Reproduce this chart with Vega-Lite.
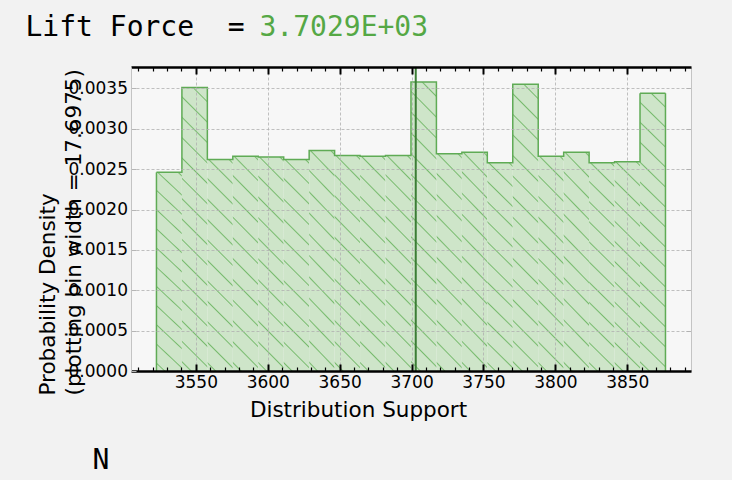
{
  "$schema": "https://vega.github.io/schema/vega-lite/v6.json",
  "width": 560,
  "height": 304,
  "autosize": {"type": "none"},
  "padding": {"left": 131, "top": 67, "right": 41, "bottom": 109},
  "background": "#f2f2f2",
  "datasets": {
    "hist": [
      {"bin_start": 3522.6, "bin_end": 3540.2975, "density": 0.00246},
      {"bin_start": 3540.2975, "bin_end": 3557.995, "density": 0.00351},
      {"bin_start": 3557.995, "bin_end": 3575.6925, "density": 0.00262},
      {"bin_start": 3575.6925, "bin_end": 3593.39, "density": 0.00266},
      {"bin_start": 3593.39, "bin_end": 3611.0875, "density": 0.00265},
      {"bin_start": 3611.0875, "bin_end": 3628.785, "density": 0.00262},
      {"bin_start": 3628.785, "bin_end": 3646.4825, "density": 0.00273},
      {"bin_start": 3646.4825, "bin_end": 3664.18, "density": 0.00267},
      {"bin_start": 3664.18, "bin_end": 3681.8775, "density": 0.00266},
      {"bin_start": 3681.8775, "bin_end": 3699.575, "density": 0.00267},
      {"bin_start": 3699.575, "bin_end": 3717.2725, "density": 0.00358},
      {"bin_start": 3717.2725, "bin_end": 3734.97, "density": 0.00269},
      {"bin_start": 3734.97, "bin_end": 3752.6675, "density": 0.00271},
      {"bin_start": 3752.6675, "bin_end": 3770.365, "density": 0.00258},
      {"bin_start": 3770.365, "bin_end": 3788.0625, "density": 0.00355},
      {"bin_start": 3788.0625, "bin_end": 3805.76, "density": 0.00266},
      {"bin_start": 3805.76, "bin_end": 3823.4575, "density": 0.00271},
      {"bin_start": 3823.4575, "bin_end": 3841.155, "density": 0.00258},
      {"bin_start": 3841.155, "bin_end": 3858.8525, "density": 0.00259},
      {"bin_start": 3858.8525, "bin_end": 3876.55, "density": 0.00344}
    ],
    "stat": [{"mean": 3702.9}]
  },
  "resolve": {"axis": {"x": "independent", "y": "independent"}},
  "layer": [
    {
      "data": {"name": "hist"},
      "transform": [{"filter": "datum.density <= 0.003"}],
      "mark": {
        "type": "bar", "orient": "vertical", "strokeWidth": 0,
        "fill": {
          "gradient": "linear", "x1": 0, "y1": 1, "x2": 0.1328, "y2": -0.1044,
          "stops": [
            {"offset": 0.029, "color": "#cee5c9"}, {"offset": 0.035, "color": "#78bb6e"}, {"offset": 0.041, "color": "#cee5c9"},
            {"offset": 0.115, "color": "#cee5c9"}, {"offset": 0.121, "color": "#78bb6e"}, {"offset": 0.127, "color": "#cee5c9"},
            {"offset": 0.202, "color": "#cee5c9"}, {"offset": 0.208, "color": "#78bb6e"}, {"offset": 0.214, "color": "#cee5c9"},
            {"offset": 0.288, "color": "#cee5c9"}, {"offset": 0.294, "color": "#78bb6e"}, {"offset": 0.300, "color": "#cee5c9"},
            {"offset": 0.374, "color": "#cee5c9"}, {"offset": 0.380, "color": "#78bb6e"}, {"offset": 0.386, "color": "#cee5c9"},
            {"offset": 0.461, "color": "#cee5c9"}, {"offset": 0.467, "color": "#78bb6e"}, {"offset": 0.473, "color": "#cee5c9"},
            {"offset": 0.547, "color": "#cee5c9"}, {"offset": 0.553, "color": "#78bb6e"}, {"offset": 0.559, "color": "#cee5c9"},
            {"offset": 0.633, "color": "#cee5c9"}, {"offset": 0.639, "color": "#78bb6e"}, {"offset": 0.645, "color": "#cee5c9"},
            {"offset": 0.719, "color": "#cee5c9"}, {"offset": 0.725, "color": "#78bb6e"}, {"offset": 0.731, "color": "#cee5c9"},
            {"offset": 0.806, "color": "#cee5c9"}, {"offset": 0.812, "color": "#78bb6e"}, {"offset": 0.818, "color": "#cee5c9"},
            {"offset": 0.892, "color": "#cee5c9"}, {"offset": 0.898, "color": "#78bb6e"}, {"offset": 0.904, "color": "#cee5c9"},
            {"offset": 0.978, "color": "#cee5c9"}, {"offset": 0.984, "color": "#78bb6e"}, {"offset": 0.990, "color": "#cee5c9"}
          ]
        }
      },
      "encoding": {
        "x": {
          "field": "bin_start", "type": "quantitative",
          "scale": {"domain": [3504.9, 3894.3], "nice": false, "zero": false, "padding": 0},
          "axis": {
            "orient": "bottom",
            "values": [3550, 3600, 3650, 3700, 3750, 3800, 3850],
            "format": "d",
            "tickSize": -7, "tickWidth": 2, "tickColor": "#000000",
            "domainColor": "#000000", "domainWidth": 2.5,
            "labelPadding": 10,
            "grid": true, "zindex": 1,
            "title": "Distribution Support",
            "titleX": 227, "titleY": 45, "titleAlign": "center", "titleBaseline": "alphabetic"
          }
        },
        "x2": {"field": "bin_end"},
        "y": {
          "field": "density", "type": "quantitative", "stack": null,
          "scale": {"domain": [0, 0.003765], "nice": false, "zero": true, "padding": 0},
          "axis": {
            "orient": "left",
            "values": [0, 0.0005, 0.001, 0.0015, 0.002, 0.0025, 0.003, 0.0035],
            "format": ".4f",
            "tickSize": -5, "tickWidth": 1, "tickColor": "#b5b5b5",
            "domainColor": "#c4c4c4", "domainWidth": 1,
            "labelPadding": 8.5,
            "grid": true, "zindex": 1,
            "title": ["Probability Density", "(plotting bin width = 17.6975)"],
            "titleAngle": -90, "titleX": -77, "titleY": 328,
            "titleAlign": "left", "titleBaseline": "alphabetic", "titleLineHeight": 26
          }
        },
        "y2": {"datum": 0}
      }
    },
    {
      "data": {"name": "hist"},
      "transform": [{"filter": "datum.density > 0.003"}],
      "mark": {
        "type": "bar", "orient": "vertical", "strokeWidth": 0,
        "fill": {
          "gradient": "linear", "x1": 0, "y1": 1, "x2": 0.0967, "y2": -0.0808,
          "stops": [
            {"offset": 0.0254, "color": "#cee5c9"}, {"offset": 0.030, "color": "#78bb6e"}, {"offset": 0.0346, "color": "#cee5c9"},
            {"offset": 0.0914, "color": "#cee5c9"}, {"offset": 0.096, "color": "#78bb6e"}, {"offset": 0.1006, "color": "#cee5c9"},
            {"offset": 0.1574, "color": "#cee5c9"}, {"offset": 0.162, "color": "#78bb6e"}, {"offset": 0.1666, "color": "#cee5c9"},
            {"offset": 0.2234, "color": "#cee5c9"}, {"offset": 0.228, "color": "#78bb6e"}, {"offset": 0.2326, "color": "#cee5c9"},
            {"offset": 0.2894, "color": "#cee5c9"}, {"offset": 0.294, "color": "#78bb6e"}, {"offset": 0.2986, "color": "#cee5c9"},
            {"offset": 0.3554, "color": "#cee5c9"}, {"offset": 0.360, "color": "#78bb6e"}, {"offset": 0.3646, "color": "#cee5c9"},
            {"offset": 0.4214, "color": "#cee5c9"}, {"offset": 0.426, "color": "#78bb6e"}, {"offset": 0.4306, "color": "#cee5c9"},
            {"offset": 0.4874, "color": "#cee5c9"}, {"offset": 0.492, "color": "#78bb6e"}, {"offset": 0.4966, "color": "#cee5c9"},
            {"offset": 0.5534, "color": "#cee5c9"}, {"offset": 0.558, "color": "#78bb6e"}, {"offset": 0.5626, "color": "#cee5c9"},
            {"offset": 0.6194, "color": "#cee5c9"}, {"offset": 0.624, "color": "#78bb6e"}, {"offset": 0.6286, "color": "#cee5c9"},
            {"offset": 0.6854, "color": "#cee5c9"}, {"offset": 0.690, "color": "#78bb6e"}, {"offset": 0.6946, "color": "#cee5c9"},
            {"offset": 0.7514, "color": "#cee5c9"}, {"offset": 0.756, "color": "#78bb6e"}, {"offset": 0.7606, "color": "#cee5c9"},
            {"offset": 0.8174, "color": "#cee5c9"}, {"offset": 0.822, "color": "#78bb6e"}, {"offset": 0.8266, "color": "#cee5c9"},
            {"offset": 0.8834, "color": "#cee5c9"}, {"offset": 0.888, "color": "#78bb6e"}, {"offset": 0.8926, "color": "#cee5c9"},
            {"offset": 0.9494, "color": "#cee5c9"}, {"offset": 0.954, "color": "#78bb6e"}, {"offset": 0.9586, "color": "#cee5c9"}
          ]
        }
      },
      "encoding": {
        "x": {"field": "bin_start", "type": "quantitative", "scale": {"domain": [3504.9, 3894.3], "nice": false, "zero": false, "padding": 0}, "axis": null},
        "x2": {"field": "bin_end"},
        "y": {"field": "density", "type": "quantitative", "stack": null, "scale": {"domain": [0, 0.003765], "nice": false, "padding": 0}, "axis": null},
        "y2": {"datum": 0}
      }
    },
    {
      "data": {"name": "hist"},
      "mark": {"type": "line", "stroke": "#5fab55", "strokeWidth": 1.5, "interpolate": "step-after"},
      "encoding": {
        "x": {"field": "bin_start", "type": "quantitative", "scale": {"domain": [3504.9, 3894.3], "nice": false, "zero": false, "padding": 0}, "axis": null},
        "y": {"field": "density", "type": "quantitative", "scale": {"domain": [0, 0.003765], "nice": false, "padding": 0}, "axis": null}
      }
    },
    {
      "data": {"name": "hist"},
      "transform": [{"filter": "datum.bin_end > 3870"}],
      "mark": {"type": "rule", "stroke": "#5fab55", "strokeWidth": 1.5},
      "encoding": {
        "x": {"field": "bin_start", "type": "quantitative", "scale": {"domain": [3504.9, 3894.3], "nice": false, "zero": false, "padding": 0}, "axis": null},
        "x2": {"field": "bin_end"},
        "y": {"field": "density", "type": "quantitative", "scale": {"domain": [0, 0.003765], "nice": false, "padding": 0}, "axis": null}
      }
    },
    {
      "data": {"name": "hist"},
      "transform": [{"filter": "datum.bin_start < 3530"}],
      "mark": {"type": "rule", "stroke": "#5fab55", "strokeWidth": 1.5},
      "encoding": {
        "x": {"field": "bin_start", "type": "quantitative", "scale": {"domain": [3504.9, 3894.3], "nice": false, "zero": false, "padding": 0}, "axis": null},
        "y": {"field": "density", "type": "quantitative", "scale": {"domain": [0, 0.003765], "nice": false, "padding": 0}, "axis": null},
        "y2": {"datum": 0}
      }
    },
    {
      "data": {"name": "hist"},
      "transform": [{"filter": "datum.bin_end > 3870"}],
      "mark": {"type": "rule", "stroke": "#5fab55", "strokeWidth": 1.5},
      "encoding": {
        "x": {"field": "bin_end", "type": "quantitative", "scale": {"domain": [3504.9, 3894.3], "nice": false, "zero": false, "padding": 0}, "axis": null},
        "y": {"field": "density", "type": "quantitative", "scale": {"domain": [0, 0.003765], "nice": false, "padding": 0}, "axis": null},
        "y2": {"datum": 0}
      }
    },
    {
      "data": {"name": "stat"},
      "mark": {"type": "rule", "stroke": "#3b7d35", "strokeWidth": 2},
      "encoding": {
        "x": {
          "field": "mean", "type": "quantitative",
          "scale": {"domain": [3504.9, 3894.3], "nice": false, "zero": false, "padding": 0},
          "axis": {
            "orient": "top",
            "values": [3550, 3600, 3650, 3700, 3750, 3800, 3850],
            "labels": false, "grid": false,
            "tickSize": -7, "tickWidth": 2, "tickColor": "#000000",
            "domainColor": "#000000", "domainWidth": 2.5, "zindex": 1,
            "title": "3.7029E+03", "titleColor": "#55a845",
            "titleFont": "DejaVu Sans Mono", "titleFontSize": 28, "titleFontWeight": "normal",
            "titleX": 128, "titleY": -32, "titleAlign": "left", "titleBaseline": "alphabetic", "titleAngle": 0
          }
        }
      }
    },
    {
      "data": {"name": "hist"},
      "mark": {"type": "bar", "orient": "vertical", "opacity": 0},
      "encoding": {
        "x": {
          "field": "bin_start", "type": "quantitative",
          "scale": {"domain": [3504.9, 3894.3], "nice": false, "zero": false, "padding": 0},
          "axis": {
            "orient": "bottom",
            "values": [3510,3520,3530,3540,3560,3570,3580,3590,3610,3620,3630,3640,3660,3670,3680,3690,3710,3720,3730,3740,3760,3770,3780,3790,3810,3820,3830,3840,3860,3870,3880,3890],
            "labels": false, "grid": false, "domain": false,
            "tickSize": -4, "tickWidth": 1.2, "tickColor": "#000000", "zindex": 1,
            "title": "N", "titleFont": "DejaVu Sans Mono", "titleFontSize": 28,
            "titleX": -39, "titleY": 97, "titleAlign": "left", "titleBaseline": "alphabetic", "titleAngle": 0
          }
        },
        "x2": {"field": "bin_end"},
        "y": {
          "field": "density", "type": "quantitative", "stack": null,
          "scale": {"domain": [0, 0.003765], "nice": false, "padding": 0},
          "axis": {
            "orient": "right",
            "values": [0, 0.0005, 0.001, 0.0015, 0.002, 0.0025, 0.003, 0.0035],
            "labels": false, "grid": false, "title": null,
            "tickSize": -5, "tickWidth": 1, "tickColor": "#b5b5b5",
            "domainColor": "#c4c4c4", "domainWidth": 1
          }
        },
        "y2": {"datum": 0}
      }
    },
    {
      "data": {"name": "hist"},
      "mark": {"type": "bar", "orient": "vertical", "opacity": 0},
      "encoding": {
        "x": {
          "field": "bin_start", "type": "quantitative",
          "scale": {"domain": [3504.9, 3894.3], "nice": false, "zero": false, "padding": 0},
          "axis": {
            "orient": "top",
            "values": [3510,3520,3530,3540,3560,3570,3580,3590,3610,3620,3630,3640,3660,3670,3680,3690,3710,3720,3730,3740,3760,3770,3780,3790,3810,3820,3830,3840,3860,3870,3880,3890],
            "labels": false, "grid": false, "domain": false,
            "tickSize": -4, "tickWidth": 1.2, "tickColor": "#000000", "zindex": 1,
            "title": "Lift Force\u00a0\u00a0=", "titleColor": "#000000",
            "titleFont": "DejaVu Sans Mono", "titleFontSize": 28, "titleFontWeight": "normal",
            "titleX": -106, "titleY": -32, "titleAlign": "left", "titleBaseline": "alphabetic", "titleAngle": 0
          }
        },
        "x2": {"field": "bin_end"},
        "y": {"field": "density", "type": "quantitative", "stack": null, "scale": {"domain": [0, 0.003765], "nice": false, "padding": 0}, "axis": null},
        "y2": {"datum": 0}
      }
    }
  ],
  "config": {
    "view": {"stroke": null, "fill": "#f7f7f7"},
    "axis": {
      "labelFont": "DejaVu Sans", "labelFontSize": 17, "labelColor": "#000000",
      "titleFont": "DejaVu Sans", "titleFontSize": 21.5, "titleFontWeight": "normal", "titleColor": "#000000",
      "gridColor": "#b0b0b0", "gridDash": [3, 2], "gridWidth": 0.8, "gridOpacity": 1
    }
  }
}
